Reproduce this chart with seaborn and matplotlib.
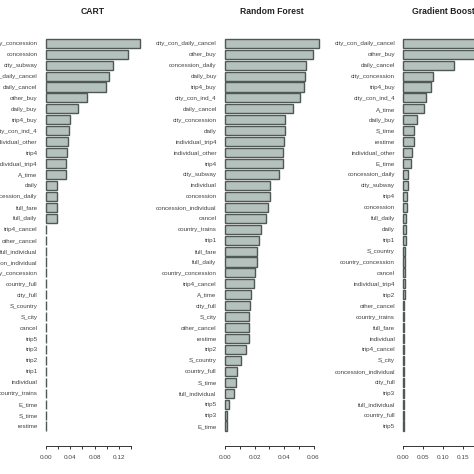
import pandas as pd
import numpy as np
import matplotlib
matplotlib.use("Agg")
import matplotlib.pyplot as plt
import seaborn as sns

sns.set_style("white")
plt.rcParams['font.family'] = ['Liberation Sans', 'DejaVu Sans']

# Feature importances (top to bottom in each panel)
cart_features = ["city_concession", "concession", "city_subway", "city_con_daily_cancel", "daily_cancel",
                 "other_buy", "daily_buy", "trip4_buy", "city_con_ind_4", "individual_other", "trip4",
                 "individual_trip4", "A_time", "daily", "concession_daily", "full_fare", "full_daily",
                 "trip4_cancel", "other_cancel", "full_individual", "concession_individual",
                 "country_concession", "country_full", "city_full", "S_country", "S_city", "cancel",
                 "trip5", "trip3", "trip2", "trip1", "individual", "country_trains", "E_time", "S_time",
                 "restime"]
cart_values = [0.154, 0.135, 0.1095, 0.1035, 0.0986, 0.0681, 0.0529, 0.0398, 0.0371, 0.0354, 0.0338,
               0.0332, 0.0322, 0.0185, 0.0185, 0.018, 0.018, 0, 0, 0, 0, 0, 0, 0, 0, 0, 0, 0, 0, 0, 0,
               0, 0, 0, 0, 0]

rf_features = ["city_con_daily_cancel", "other_buy", "concession_daily", "daily_buy", "trip4_buy",
               "city_con_ind_4", "daily_cancel", "city_concession", "daily", "individual_trip4",
               "individual_other", "trip4", "city_subway", "individual", "concession",
               "concession_individual", "cancel", "country_trains", "trip1", "full_fare", "full_daily",
               "country_concession", "trip4_cancel", "A_time", "city_full", "S_city", "other_cancel",
               "restime", "trip2", "S_country", "country_full", "S_time", "full_individual", "trip5",
               "trip3", "E_time"]
rf_values = [0.0636, 0.0593, 0.0548, 0.0541, 0.0532, 0.0510, 0.0460, 0.0408, 0.0405, 0.0399, 0.0396,
             0.0392, 0.0369, 0.0304, 0.0306, 0.0290, 0.0276, 0.0247, 0.0229, 0.0215, 0.0215, 0.0204,
             0.0199, 0.0174, 0.0168, 0.0161, 0.0159, 0.0159, 0.0140, 0.0111, 0.0084, 0.0075, 0.0061,
             0.0025, 0.0016, 0.0011]

gb_features = ["city_con_daily_cancel", "other_buy", "daily_cancel", "city_concession", "trip4_buy",
               "city_con_ind_4", "A_time", "daily_buy", "S_time", "restime", "individual_other", "E_time",
               "concession_daily", "city_subway", "trip4", "concession", "full_daily", "daily", "trip1",
               "S_country", "country_concession", "cancel", "individual_trip4", "trip2", "other_cancel",
               "country_trains", "full_fare", "individual", "trip4_cancel", "S_city",
               "concession_individual", "city_full", "trip3", "full_individual", "country_full", "trip5"]
gb_values = [0.234, 0.215, 0.127, 0.0742, 0.070, 0.0565, 0.0514, 0.0329, 0.0278, 0.027, 0.0219, 0.0194,
             0.0126, 0.011, 0.0101, 0.0093, 0.0076, 0.0076, 0.0067, 0.005, 0.0042, 0.0034, 0.0034, 0.003,
             0.0025, 0.002, 0.0015, 0.0015, 0.001, 0.001, 0.001, 0.0008, 0.0008, 0.0005, 0.0005, 0.0005]

panels = [
    ("CART", cart_features, cart_values, 42.2, np.arange(0, 0.141, 0.02), 2, 0.14),
    ("Random Forest", rf_features, rf_values, 221.3, np.arange(0, 0.061, 0.01), 2, 0.06),
    ("Gradient Boosting", gb_features, gb_values, 399.6, np.arange(0, 0.21, 0.05), 1, 0.20),
]

W = H = 474
fig = plt.figure(figsize=(4.74, 4.74), dpi=100)
top_px, bot_px, width_px = 36.7, 432.6, 101.3

for title, feats, vals, left_px, ticks, every, tmax in panels:
    ax = fig.add_axes([left_px / W, 1 - bot_px / H, width_px / W, (bot_px - top_px) / H])
    df = pd.DataFrame({"feature": feats, "importance": vals})
    sns.barplot(data=df, x="importance", y="feature", orient="h", color="#b4c1bd",
                saturation=1, edgecolor="#505856", linewidth=1.0, width=0.83, ax=ax)
    m = max(vals)
    ax.set_xlim(-0.04 * m, 1.04 * m)
    ax.set_ylim(len(feats) - 0.4, -0.6)
    ax.set_xlabel("")
    ax.set_ylabel("")
    for s in ["left", "top", "right"]:
        ax.spines[s].set_visible(False)
    ax.spines["bottom"].set_position(("outward", 10))
    ax.spines["bottom"].set_bounds(0, tmax)
    ax.spines["bottom"].set_color("#333333")
    ax.spines["bottom"].set_linewidth(0.7)
    ax.set_xticks(ticks)
    ax.set_xticklabels([f"{t:.2f}" if i % every == 0 else "" for i, t in enumerate(ticks)])
    ax.tick_params(axis="x", bottom=True, length=2.3, width=0.7, color="#333333",
                   labelsize=4.6, pad=3.5, labelcolor="#444444")
    ax.tick_params(axis="y", left=False, length=0, labelsize=4.5, pad=3.3, labelcolor="#444444")
    ax.text(0.5, 1 + 24.7 / (bot_px - top_px), title, transform=ax.transAxes, ha="center",
            va="center", fontsize=6.2, fontweight="bold", color="#222222")

fig.savefig("out.png", dpi=100)
